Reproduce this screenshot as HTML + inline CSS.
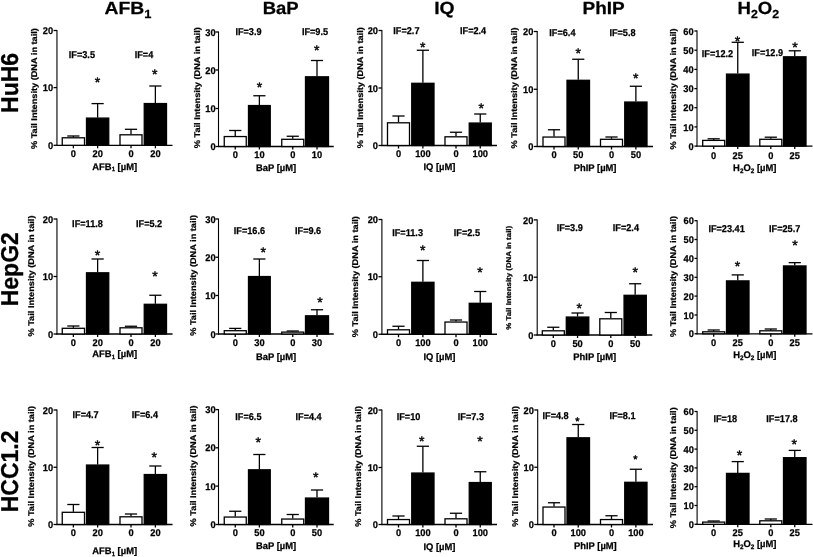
<!DOCTYPE html>
<html><head><meta charset="utf-8"><title>Comet assay tail intensity</title>
<style>
html,body{margin:0;padding:0;background:#fff;}
svg{display:block;}
svg text{text-rendering:geometricPrecision;font-family:"Liberation Sans", sans-serif;font-weight:bold;fill:#000;stroke:#000;stroke-width:0.25px;stroke-linejoin:round;}
svg text.st{font-weight:normal;stroke-width:0.45px;}
</style></head><body>
<svg width="813" height="557" viewBox="0 0 813 557">
<rect x="0" y="0" width="813" height="557" fill="#fff"/>
<line x1="56.95" y1="30.00" x2="56.95" y2="145.80" stroke="#000" stroke-width="1.1"/>
<line x1="56.45" y1="145.30" x2="172.50" y2="145.30" stroke="#000" stroke-width="1.3"/>
<line x1="53.55" y1="30.50" x2="56.95" y2="30.50" stroke="#000" stroke-width="1.3"/>
<text transform="translate(53.05,34.10) scale(0.9434,1)" font-size="9.86" text-anchor="end">20</text>
<line x1="53.55" y1="87.60" x2="56.95" y2="87.60" stroke="#000" stroke-width="1.3"/>
<text transform="translate(53.05,91.20) scale(0.9434,1)" font-size="9.86" text-anchor="end">10</text>
<line x1="53.55" y1="145.30" x2="56.95" y2="145.30" stroke="#000" stroke-width="1.3"/>
<text transform="translate(53.05,148.90) scale(0.9434,1)" font-size="9.86" text-anchor="end">0</text>
<line x1="73.38" y1="136.00" x2="73.38" y2="137.30" stroke="#000" stroke-width="1.3"/>
<line x1="67.28" y1="136.00" x2="79.47" y2="136.00" stroke="#000" stroke-width="1.3"/>
<rect x="62.25" y="137.80" width="22.25" height="7.50" fill="#fff" stroke="#000" stroke-width="1.3"/>
<line x1="73.38" y1="145.30" x2="73.38" y2="148.30" stroke="#000" stroke-width="1.3"/>
<text transform="translate(73.38,156.80) scale(0.9434,1)" font-size="9.86" text-anchor="middle">0</text>
<line x1="97.62" y1="103.60" x2="97.62" y2="117.60" stroke="#000" stroke-width="1.3"/>
<line x1="91.53" y1="103.60" x2="103.72" y2="103.60" stroke="#000" stroke-width="1.3"/>
<rect x="86.50" y="118.10" width="22.25" height="27.20" fill="#000" stroke="#000" stroke-width="1.3"/>
<line x1="97.62" y1="145.30" x2="97.62" y2="148.30" stroke="#000" stroke-width="1.3"/>
<text transform="translate(97.62,156.80) scale(0.9434,1)" font-size="9.86" text-anchor="middle">20</text>
<line x1="131.00" y1="129.30" x2="131.00" y2="134.30" stroke="#000" stroke-width="1.3"/>
<line x1="124.90" y1="129.30" x2="137.10" y2="129.30" stroke="#000" stroke-width="1.3"/>
<rect x="120.00" y="134.80" width="22.00" height="10.50" fill="#fff" stroke="#000" stroke-width="1.3"/>
<line x1="131.00" y1="145.30" x2="131.00" y2="148.30" stroke="#000" stroke-width="1.3"/>
<text transform="translate(131.00,156.80) scale(0.9434,1)" font-size="9.86" text-anchor="middle">0</text>
<line x1="155.38" y1="86.00" x2="155.38" y2="103.05" stroke="#000" stroke-width="1.3"/>
<line x1="149.28" y1="86.00" x2="161.47" y2="86.00" stroke="#000" stroke-width="1.3"/>
<rect x="144.25" y="103.55" width="22.25" height="41.75" fill="#000" stroke="#000" stroke-width="1.3"/>
<line x1="155.38" y1="145.30" x2="155.38" y2="148.30" stroke="#000" stroke-width="1.3"/>
<text transform="translate(155.38,156.80) scale(0.9434,1)" font-size="9.86" text-anchor="middle">20</text>
<text transform="translate(114.72,169.55) scale(0.9804,1)" font-size="9.59" text-anchor="middle">AFB<tspan font-size="6.14" dy="1.92">1</tspan><tspan dy="-1.92"> [µM]</tspan></text>
<text class="st" x="97.40" y="87.24" font-size="14" text-anchor="middle">*</text>
<text class="st" x="154.80" y="79.14" font-size="14" text-anchor="middle">*</text>
<text transform="translate(81.88,57.70) scale(0.9259,1)" font-size="9.90" text-anchor="middle">IF=3.5</text>
<text transform="translate(144.00,57.70) scale(0.9259,1)" font-size="9.90" text-anchor="middle">IF=4</text>
<text x="0.00" y="0.00" font-size="9.2" text-anchor="middle" transform="translate(37.16,88.60) scale(0.9,1) rotate(-90)">% Tail Intensity (DNA in tail)</text>
<line x1="218.50" y1="31.50" x2="218.50" y2="147.00" stroke="#000" stroke-width="1.1"/>
<line x1="218.00" y1="146.50" x2="333.75" y2="146.50" stroke="#000" stroke-width="1.3"/>
<line x1="215.50" y1="32.00" x2="218.50" y2="32.00" stroke="#000" stroke-width="1.3"/>
<text transform="translate(215.60,35.60) scale(0.9434,1)" font-size="9.86" text-anchor="end">30</text>
<line x1="215.50" y1="70.00" x2="218.50" y2="70.00" stroke="#000" stroke-width="1.3"/>
<text transform="translate(215.60,73.60) scale(0.9434,1)" font-size="9.86" text-anchor="end">20</text>
<line x1="215.50" y1="108.50" x2="218.50" y2="108.50" stroke="#000" stroke-width="1.3"/>
<text transform="translate(215.60,112.10) scale(0.9434,1)" font-size="9.86" text-anchor="end">10</text>
<line x1="215.50" y1="146.50" x2="218.50" y2="146.50" stroke="#000" stroke-width="1.3"/>
<text transform="translate(215.60,150.10) scale(0.9434,1)" font-size="9.86" text-anchor="end">0</text>
<line x1="235.25" y1="130.50" x2="235.25" y2="136.05" stroke="#000" stroke-width="1.3"/>
<line x1="229.15" y1="130.50" x2="241.35" y2="130.50" stroke="#000" stroke-width="1.3"/>
<rect x="224.25" y="136.55" width="22.00" height="9.95" fill="#fff" stroke="#000" stroke-width="1.3"/>
<line x1="235.25" y1="146.50" x2="235.25" y2="149.50" stroke="#000" stroke-width="1.3"/>
<text transform="translate(235.25,157.80) scale(0.9434,1)" font-size="9.86" text-anchor="middle">0</text>
<line x1="259.38" y1="95.75" x2="259.38" y2="105.05" stroke="#000" stroke-width="1.3"/>
<line x1="253.28" y1="95.75" x2="265.48" y2="95.75" stroke="#000" stroke-width="1.3"/>
<rect x="248.50" y="105.55" width="21.75" height="40.95" fill="#000" stroke="#000" stroke-width="1.3"/>
<line x1="259.38" y1="146.50" x2="259.38" y2="149.50" stroke="#000" stroke-width="1.3"/>
<text transform="translate(259.38,157.80) scale(0.9434,1)" font-size="9.86" text-anchor="middle">10</text>
<line x1="292.75" y1="136.25" x2="292.75" y2="138.80" stroke="#000" stroke-width="1.3"/>
<line x1="286.65" y1="136.25" x2="298.85" y2="136.25" stroke="#000" stroke-width="1.3"/>
<rect x="281.75" y="139.30" width="22.00" height="7.20" fill="#fff" stroke="#000" stroke-width="1.3"/>
<line x1="292.75" y1="146.50" x2="292.75" y2="149.50" stroke="#000" stroke-width="1.3"/>
<text transform="translate(292.75,157.80) scale(0.9434,1)" font-size="9.86" text-anchor="middle">0</text>
<line x1="317.00" y1="60.50" x2="317.00" y2="76.30" stroke="#000" stroke-width="1.3"/>
<line x1="310.90" y1="60.50" x2="323.10" y2="60.50" stroke="#000" stroke-width="1.3"/>
<rect x="305.50" y="76.80" width="23.00" height="69.70" fill="#000" stroke="#000" stroke-width="1.3"/>
<line x1="317.00" y1="146.50" x2="317.00" y2="149.50" stroke="#000" stroke-width="1.3"/>
<text transform="translate(317.00,157.80) scale(0.9434,1)" font-size="9.86" text-anchor="middle">10</text>
<text transform="translate(276.12,170.80) scale(0.9804,1)" font-size="9.59" text-anchor="middle">BaP [µM]</text>
<text class="st" x="259.50" y="91.64" font-size="14" text-anchor="middle">*</text>
<text class="st" x="316.80" y="55.44" font-size="14" text-anchor="middle">*</text>
<text transform="translate(248.50,35.20) scale(0.9259,1)" font-size="9.90" text-anchor="middle">IF=3.9</text>
<text transform="translate(315.00,35.20) scale(0.9259,1)" font-size="9.90" text-anchor="middle">IF=9.5</text>
<text x="0.00" y="0.00" font-size="9.2" text-anchor="middle" transform="translate(199.60,87.75) scale(0.9,1) rotate(-90)">% Tail Intensity (DNA in tail)</text>
<line x1="381.90" y1="30.00" x2="381.90" y2="146.00" stroke="#000" stroke-width="1.1"/>
<line x1="381.40" y1="145.50" x2="497.00" y2="145.50" stroke="#000" stroke-width="1.3"/>
<line x1="378.50" y1="30.50" x2="381.90" y2="30.50" stroke="#000" stroke-width="1.3"/>
<text transform="translate(378.00,34.10) scale(0.9434,1)" font-size="9.86" text-anchor="end">20</text>
<line x1="378.50" y1="88.00" x2="381.90" y2="88.00" stroke="#000" stroke-width="1.3"/>
<text transform="translate(378.00,91.60) scale(0.9434,1)" font-size="9.86" text-anchor="end">10</text>
<line x1="378.50" y1="145.50" x2="381.90" y2="145.50" stroke="#000" stroke-width="1.3"/>
<text transform="translate(378.00,149.10) scale(0.9434,1)" font-size="9.86" text-anchor="end">0</text>
<line x1="398.50" y1="116.00" x2="398.50" y2="122.30" stroke="#000" stroke-width="1.3"/>
<line x1="392.40" y1="116.00" x2="404.60" y2="116.00" stroke="#000" stroke-width="1.3"/>
<rect x="387.50" y="122.80" width="22.00" height="22.70" fill="#fff" stroke="#000" stroke-width="1.3"/>
<line x1="398.50" y1="145.50" x2="398.50" y2="148.50" stroke="#000" stroke-width="1.3"/>
<text transform="translate(398.50,156.80) scale(0.9434,1)" font-size="9.86" text-anchor="middle">0</text>
<line x1="422.88" y1="50.25" x2="422.88" y2="82.80" stroke="#000" stroke-width="1.3"/>
<line x1="416.77" y1="50.25" x2="428.98" y2="50.25" stroke="#000" stroke-width="1.3"/>
<rect x="411.75" y="83.30" width="22.25" height="62.20" fill="#000" stroke="#000" stroke-width="1.3"/>
<line x1="422.88" y1="145.50" x2="422.88" y2="148.50" stroke="#000" stroke-width="1.3"/>
<text transform="translate(422.88,156.80) scale(0.9434,1)" font-size="9.86" text-anchor="middle">100</text>
<line x1="456.00" y1="132.25" x2="456.00" y2="136.30" stroke="#000" stroke-width="1.3"/>
<line x1="449.90" y1="132.25" x2="462.10" y2="132.25" stroke="#000" stroke-width="1.3"/>
<rect x="445.00" y="136.80" width="22.00" height="8.70" fill="#fff" stroke="#000" stroke-width="1.3"/>
<line x1="456.00" y1="145.50" x2="456.00" y2="148.50" stroke="#000" stroke-width="1.3"/>
<text transform="translate(456.00,156.80) scale(0.9434,1)" font-size="9.86" text-anchor="middle">0</text>
<line x1="480.25" y1="114.00" x2="480.25" y2="122.55" stroke="#000" stroke-width="1.3"/>
<line x1="474.15" y1="114.00" x2="486.35" y2="114.00" stroke="#000" stroke-width="1.3"/>
<rect x="469.25" y="123.05" width="22.00" height="22.45" fill="#000" stroke="#000" stroke-width="1.3"/>
<line x1="480.25" y1="145.50" x2="480.25" y2="148.50" stroke="#000" stroke-width="1.3"/>
<text transform="translate(480.25,156.80) scale(0.9434,1)" font-size="9.86" text-anchor="middle">100</text>
<text transform="translate(439.45,169.55) scale(0.9804,1)" font-size="9.59" text-anchor="middle">IQ [µM]</text>
<text class="st" x="422.75" y="52.14" font-size="14" text-anchor="middle">*</text>
<text class="st" x="481.25" y="113.14" font-size="14" text-anchor="middle">*</text>
<text transform="translate(406.38,33.95) scale(0.9259,1)" font-size="9.90" text-anchor="middle">IF=2.7</text>
<text transform="translate(473.12,33.95) scale(0.9259,1)" font-size="9.90" text-anchor="middle">IF=2.4</text>
<text x="0.00" y="0.00" font-size="9.2" text-anchor="middle" transform="translate(362.76,87.75) scale(0.9,1) rotate(-90)">% Tail Intensity (DNA in tail)</text>
<line x1="537.20" y1="31.00" x2="537.20" y2="147.00" stroke="#000" stroke-width="1.1"/>
<line x1="536.70" y1="146.50" x2="653.00" y2="146.50" stroke="#000" stroke-width="1.3"/>
<line x1="533.80" y1="31.50" x2="537.20" y2="31.50" stroke="#000" stroke-width="1.3"/>
<text transform="translate(533.30,35.10) scale(0.9434,1)" font-size="9.86" text-anchor="end">20</text>
<line x1="533.80" y1="89.25" x2="537.20" y2="89.25" stroke="#000" stroke-width="1.3"/>
<text transform="translate(533.30,92.85) scale(0.9434,1)" font-size="9.86" text-anchor="end">10</text>
<line x1="533.80" y1="146.50" x2="537.20" y2="146.50" stroke="#000" stroke-width="1.3"/>
<text transform="translate(533.30,150.10) scale(0.9434,1)" font-size="9.86" text-anchor="end">0</text>
<line x1="554.00" y1="129.75" x2="554.00" y2="136.55" stroke="#000" stroke-width="1.3"/>
<line x1="547.90" y1="129.75" x2="560.10" y2="129.75" stroke="#000" stroke-width="1.3"/>
<rect x="543.00" y="137.05" width="22.00" height="9.45" fill="#fff" stroke="#000" stroke-width="1.3"/>
<line x1="554.00" y1="146.50" x2="554.00" y2="149.50" stroke="#000" stroke-width="1.3"/>
<text transform="translate(554.00,157.80) scale(0.9434,1)" font-size="9.86" text-anchor="middle">0</text>
<line x1="578.25" y1="59.25" x2="578.25" y2="79.80" stroke="#000" stroke-width="1.3"/>
<line x1="572.15" y1="59.25" x2="584.35" y2="59.25" stroke="#000" stroke-width="1.3"/>
<rect x="567.00" y="80.30" width="22.50" height="66.20" fill="#000" stroke="#000" stroke-width="1.3"/>
<line x1="578.25" y1="146.50" x2="578.25" y2="149.50" stroke="#000" stroke-width="1.3"/>
<text transform="translate(578.25,157.80) scale(0.9434,1)" font-size="9.86" text-anchor="middle">50</text>
<line x1="611.50" y1="137.00" x2="611.50" y2="138.80" stroke="#000" stroke-width="1.3"/>
<line x1="605.40" y1="137.00" x2="617.60" y2="137.00" stroke="#000" stroke-width="1.3"/>
<rect x="600.50" y="139.30" width="22.00" height="7.20" fill="#fff" stroke="#000" stroke-width="1.3"/>
<line x1="611.50" y1="146.50" x2="611.50" y2="149.50" stroke="#000" stroke-width="1.3"/>
<text transform="translate(611.50,157.80) scale(0.9434,1)" font-size="9.86" text-anchor="middle">0</text>
<line x1="635.88" y1="86.25" x2="635.88" y2="101.55" stroke="#000" stroke-width="1.3"/>
<line x1="629.77" y1="86.25" x2="641.98" y2="86.25" stroke="#000" stroke-width="1.3"/>
<rect x="624.75" y="102.05" width="22.25" height="44.45" fill="#000" stroke="#000" stroke-width="1.3"/>
<line x1="635.88" y1="146.50" x2="635.88" y2="149.50" stroke="#000" stroke-width="1.3"/>
<text transform="translate(635.88,157.80) scale(0.9434,1)" font-size="9.86" text-anchor="middle">50</text>
<text transform="translate(595.10,170.80) scale(0.9804,1)" font-size="9.59" text-anchor="middle">PhIP [µM]</text>
<text class="st" x="578.25" y="58.39" font-size="14" text-anchor="middle">*</text>
<text class="st" x="635.75" y="82.89" font-size="14" text-anchor="middle">*</text>
<text transform="translate(562.38,36.45) scale(0.9259,1)" font-size="9.90" text-anchor="middle">IF=6.4</text>
<text transform="translate(622.50,36.45) scale(0.9259,1)" font-size="9.90" text-anchor="middle">IF=5.8</text>
<text x="0.00" y="0.00" font-size="9.2" text-anchor="middle" transform="translate(517.40,87.95) scale(0.9,1) rotate(-90)">% Tail Intensity (DNA in tail)</text>
<line x1="697.00" y1="30.50" x2="697.00" y2="146.60" stroke="#000" stroke-width="1.1"/>
<line x1="696.50" y1="146.10" x2="812.50" y2="146.10" stroke="#000" stroke-width="1.3"/>
<line x1="694.40" y1="31.00" x2="697.00" y2="31.00" stroke="#000" stroke-width="1.3"/>
<text transform="translate(693.70,34.60) scale(0.9434,1)" font-size="9.86" text-anchor="end">60</text>
<line x1="694.40" y1="50.20" x2="697.00" y2="50.20" stroke="#000" stroke-width="1.3"/>
<text transform="translate(693.70,53.80) scale(0.9434,1)" font-size="9.86" text-anchor="end">50</text>
<line x1="694.40" y1="69.40" x2="697.00" y2="69.40" stroke="#000" stroke-width="1.3"/>
<text transform="translate(693.70,73.00) scale(0.9434,1)" font-size="9.86" text-anchor="end">40</text>
<line x1="694.40" y1="88.60" x2="697.00" y2="88.60" stroke="#000" stroke-width="1.3"/>
<text transform="translate(693.70,92.20) scale(0.9434,1)" font-size="9.86" text-anchor="end">30</text>
<line x1="694.40" y1="107.70" x2="697.00" y2="107.70" stroke="#000" stroke-width="1.3"/>
<text transform="translate(693.70,111.30) scale(0.9434,1)" font-size="9.86" text-anchor="end">20</text>
<line x1="694.40" y1="126.90" x2="697.00" y2="126.90" stroke="#000" stroke-width="1.3"/>
<text transform="translate(693.70,130.50) scale(0.9434,1)" font-size="9.86" text-anchor="end">10</text>
<line x1="694.40" y1="146.10" x2="697.00" y2="146.10" stroke="#000" stroke-width="1.3"/>
<text transform="translate(693.70,149.70) scale(0.9434,1)" font-size="9.86" text-anchor="end">0</text>
<line x1="713.70" y1="138.80" x2="713.70" y2="139.90" stroke="#000" stroke-width="1.3"/>
<line x1="707.60" y1="138.80" x2="719.80" y2="138.80" stroke="#000" stroke-width="1.3"/>
<rect x="702.70" y="140.40" width="22.00" height="5.70" fill="#fff" stroke="#000" stroke-width="1.3"/>
<line x1="713.70" y1="146.10" x2="713.70" y2="149.10" stroke="#000" stroke-width="1.3"/>
<text transform="translate(713.70,158.60) scale(0.9434,1)" font-size="9.86" text-anchor="middle">0</text>
<line x1="737.75" y1="42.30" x2="737.75" y2="73.60" stroke="#000" stroke-width="1.3"/>
<line x1="731.65" y1="42.30" x2="743.85" y2="42.30" stroke="#000" stroke-width="1.3"/>
<rect x="726.50" y="74.10" width="22.50" height="72.00" fill="#000" stroke="#000" stroke-width="1.3"/>
<line x1="737.75" y1="146.10" x2="737.75" y2="149.10" stroke="#000" stroke-width="1.3"/>
<text transform="translate(737.75,158.60) scale(0.9434,1)" font-size="9.86" text-anchor="middle">25</text>
<line x1="770.80" y1="137.20" x2="770.80" y2="138.80" stroke="#000" stroke-width="1.3"/>
<line x1="764.70" y1="137.20" x2="776.90" y2="137.20" stroke="#000" stroke-width="1.3"/>
<rect x="759.80" y="139.30" width="22.00" height="6.80" fill="#fff" stroke="#000" stroke-width="1.3"/>
<line x1="770.80" y1="146.10" x2="770.80" y2="149.10" stroke="#000" stroke-width="1.3"/>
<text transform="translate(770.80,158.60) scale(0.9434,1)" font-size="9.86" text-anchor="middle">0</text>
<line x1="794.75" y1="50.80" x2="794.75" y2="56.30" stroke="#000" stroke-width="1.3"/>
<line x1="788.65" y1="50.80" x2="800.85" y2="50.80" stroke="#000" stroke-width="1.3"/>
<rect x="783.50" y="56.80" width="22.50" height="89.30" fill="#000" stroke="#000" stroke-width="1.3"/>
<line x1="794.75" y1="146.10" x2="794.75" y2="149.10" stroke="#000" stroke-width="1.3"/>
<text transform="translate(794.75,158.60) scale(0.9434,1)" font-size="9.86" text-anchor="middle">25</text>
<text transform="translate(754.75,170.80) scale(0.9804,1)" font-size="9.59" text-anchor="middle">H<tspan font-size="6.52" dy="1.92">2</tspan><tspan dy="-1.92">O</tspan><tspan font-size="6.52" dy="1.92">2</tspan><tspan dy="-1.92"> [µM]</tspan></text>
<text class="st" x="737.60" y="45.64" font-size="14" text-anchor="middle">*</text>
<text class="st" x="795.10" y="52.24" font-size="14" text-anchor="middle">*</text>
<text transform="translate(717.45,57.00) scale(0.9259,1)" font-size="9.90" text-anchor="middle">IF=12.2</text>
<text transform="translate(767.40,56.20) scale(0.9259,1)" font-size="9.90" text-anchor="middle">IF=12.9</text>
<text x="0.00" y="0.00" font-size="9.2" text-anchor="middle" transform="translate(676.30,88.95) scale(0.9,1) rotate(-90)">% Tail Intensity (DNA in tail)</text>
<line x1="56.95" y1="218.50" x2="56.95" y2="334.50" stroke="#000" stroke-width="1.1"/>
<line x1="56.45" y1="334.00" x2="172.50" y2="334.00" stroke="#000" stroke-width="1.3"/>
<line x1="53.55" y1="219.00" x2="56.95" y2="219.00" stroke="#000" stroke-width="1.3"/>
<text transform="translate(53.05,222.60) scale(0.9434,1)" font-size="9.86" text-anchor="end">20</text>
<line x1="53.55" y1="276.50" x2="56.95" y2="276.50" stroke="#000" stroke-width="1.3"/>
<text transform="translate(53.05,280.10) scale(0.9434,1)" font-size="9.86" text-anchor="end">10</text>
<line x1="53.55" y1="334.00" x2="56.95" y2="334.00" stroke="#000" stroke-width="1.3"/>
<text transform="translate(53.05,337.60) scale(0.9434,1)" font-size="9.86" text-anchor="end">0</text>
<line x1="73.38" y1="326.00" x2="73.38" y2="327.80" stroke="#000" stroke-width="1.3"/>
<line x1="67.28" y1="326.00" x2="79.47" y2="326.00" stroke="#000" stroke-width="1.3"/>
<rect x="62.25" y="328.30" width="22.25" height="5.70" fill="#fff" stroke="#000" stroke-width="1.3"/>
<line x1="73.38" y1="334.00" x2="73.38" y2="337.00" stroke="#000" stroke-width="1.3"/>
<text transform="translate(73.38,346.05) scale(0.9434,1)" font-size="9.86" text-anchor="middle">0</text>
<line x1="97.62" y1="259.00" x2="97.62" y2="272.30" stroke="#000" stroke-width="1.3"/>
<line x1="91.53" y1="259.00" x2="103.72" y2="259.00" stroke="#000" stroke-width="1.3"/>
<rect x="86.50" y="272.80" width="22.25" height="61.20" fill="#000" stroke="#000" stroke-width="1.3"/>
<line x1="97.62" y1="334.00" x2="97.62" y2="337.00" stroke="#000" stroke-width="1.3"/>
<text transform="translate(97.62,346.05) scale(0.9434,1)" font-size="9.86" text-anchor="middle">20</text>
<line x1="131.00" y1="326.25" x2="131.00" y2="327.30" stroke="#000" stroke-width="1.3"/>
<line x1="124.90" y1="326.25" x2="137.10" y2="326.25" stroke="#000" stroke-width="1.3"/>
<rect x="120.00" y="327.80" width="22.00" height="6.20" fill="#fff" stroke="#000" stroke-width="1.3"/>
<line x1="131.00" y1="334.00" x2="131.00" y2="337.00" stroke="#000" stroke-width="1.3"/>
<text transform="translate(131.00,346.05) scale(0.9434,1)" font-size="9.86" text-anchor="middle">0</text>
<line x1="155.38" y1="295.25" x2="155.38" y2="303.80" stroke="#000" stroke-width="1.3"/>
<line x1="149.28" y1="295.25" x2="161.47" y2="295.25" stroke="#000" stroke-width="1.3"/>
<rect x="144.25" y="304.30" width="22.25" height="29.70" fill="#000" stroke="#000" stroke-width="1.3"/>
<line x1="155.38" y1="334.00" x2="155.38" y2="337.00" stroke="#000" stroke-width="1.3"/>
<text transform="translate(155.38,346.05) scale(0.9434,1)" font-size="9.86" text-anchor="middle">20</text>
<text transform="translate(114.72,357.20) scale(0.9804,1)" font-size="9.59" text-anchor="middle">AFB<tspan font-size="6.14" dy="1.92">1</tspan><tspan dy="-1.92"> [µM]</tspan></text>
<text class="st" x="97.50" y="259.64" font-size="14" text-anchor="middle">*</text>
<text class="st" x="155.00" y="280.89" font-size="14" text-anchor="middle">*</text>
<text transform="translate(87.50,226.95) scale(0.9259,1)" font-size="9.90" text-anchor="middle">IF=11.8</text>
<text transform="translate(149.12,226.95) scale(0.9259,1)" font-size="9.90" text-anchor="middle">IF=5.2</text>
<text x="0.00" y="0.00" font-size="9.2" text-anchor="middle" transform="translate(34.00,276.05) scale(0.9,1) rotate(-90)">% Tail Intensity (DNA in tail)</text>
<line x1="218.50" y1="218.50" x2="218.50" y2="334.50" stroke="#000" stroke-width="1.1"/>
<line x1="218.00" y1="334.00" x2="333.75" y2="334.00" stroke="#000" stroke-width="1.3"/>
<line x1="215.50" y1="219.00" x2="218.50" y2="219.00" stroke="#000" stroke-width="1.3"/>
<text transform="translate(215.60,222.60) scale(0.9434,1)" font-size="9.86" text-anchor="end">30</text>
<line x1="215.50" y1="257.25" x2="218.50" y2="257.25" stroke="#000" stroke-width="1.3"/>
<text transform="translate(215.60,260.85) scale(0.9434,1)" font-size="9.86" text-anchor="end">20</text>
<line x1="215.50" y1="295.50" x2="218.50" y2="295.50" stroke="#000" stroke-width="1.3"/>
<text transform="translate(215.60,299.10) scale(0.9434,1)" font-size="9.86" text-anchor="end">10</text>
<line x1="215.50" y1="334.00" x2="218.50" y2="334.00" stroke="#000" stroke-width="1.3"/>
<text transform="translate(215.60,337.60) scale(0.9434,1)" font-size="9.86" text-anchor="end">0</text>
<line x1="235.25" y1="328.40" x2="235.25" y2="330.20" stroke="#000" stroke-width="1.3"/>
<line x1="229.15" y1="328.40" x2="241.35" y2="328.40" stroke="#000" stroke-width="1.3"/>
<rect x="224.25" y="330.70" width="22.00" height="3.30" fill="#fff" stroke="#000" stroke-width="1.3"/>
<line x1="235.25" y1="334.00" x2="235.25" y2="337.00" stroke="#000" stroke-width="1.3"/>
<text transform="translate(235.25,345.80) scale(0.9434,1)" font-size="9.86" text-anchor="middle">0</text>
<line x1="259.38" y1="259.00" x2="259.38" y2="276.05" stroke="#000" stroke-width="1.3"/>
<line x1="253.28" y1="259.00" x2="265.48" y2="259.00" stroke="#000" stroke-width="1.3"/>
<rect x="248.50" y="276.55" width="21.75" height="57.45" fill="#000" stroke="#000" stroke-width="1.3"/>
<line x1="259.38" y1="334.00" x2="259.38" y2="337.00" stroke="#000" stroke-width="1.3"/>
<text transform="translate(259.38,345.80) scale(0.9434,1)" font-size="9.86" text-anchor="middle">30</text>
<line x1="292.75" y1="331.00" x2="292.75" y2="331.60" stroke="#000" stroke-width="1.3"/>
<line x1="286.65" y1="331.00" x2="298.85" y2="331.00" stroke="#000" stroke-width="1.3"/>
<rect x="281.75" y="332.10" width="22.00" height="1.90" fill="#fff" stroke="#000" stroke-width="1.3"/>
<line x1="292.75" y1="334.00" x2="292.75" y2="337.00" stroke="#000" stroke-width="1.3"/>
<text transform="translate(292.75,345.80) scale(0.9434,1)" font-size="9.86" text-anchor="middle">0</text>
<line x1="317.00" y1="309.75" x2="317.00" y2="315.30" stroke="#000" stroke-width="1.3"/>
<line x1="310.90" y1="309.75" x2="323.10" y2="309.75" stroke="#000" stroke-width="1.3"/>
<rect x="305.50" y="315.80" width="23.00" height="18.20" fill="#000" stroke="#000" stroke-width="1.3"/>
<line x1="317.00" y1="334.00" x2="317.00" y2="337.00" stroke="#000" stroke-width="1.3"/>
<text transform="translate(317.00,345.80) scale(0.9434,1)" font-size="9.86" text-anchor="middle">30</text>
<text transform="translate(276.12,359.80) scale(0.9804,1)" font-size="9.59" text-anchor="middle">BaP [µM]</text>
<text class="st" x="263.25" y="257.14" font-size="14" text-anchor="middle">*</text>
<text class="st" x="320.00" y="306.64" font-size="14" text-anchor="middle">*</text>
<text transform="translate(249.38,233.95) scale(0.9259,1)" font-size="9.90" text-anchor="middle">IF=16.6</text>
<text transform="translate(308.12,233.95) scale(0.9259,1)" font-size="9.90" text-anchor="middle">IF=9.6</text>
<text x="0.00" y="0.00" font-size="9.2" text-anchor="middle" transform="translate(195.70,275.35) scale(0.9,1) rotate(-90)">% Tail Intensity (DNA in tail)</text>
<line x1="381.90" y1="219.00" x2="381.90" y2="334.75" stroke="#000" stroke-width="1.1"/>
<line x1="381.40" y1="334.25" x2="497.00" y2="334.25" stroke="#000" stroke-width="1.3"/>
<line x1="378.50" y1="219.50" x2="381.90" y2="219.50" stroke="#000" stroke-width="1.3"/>
<text transform="translate(378.00,223.10) scale(0.9434,1)" font-size="9.86" text-anchor="end">20</text>
<line x1="378.50" y1="276.75" x2="381.90" y2="276.75" stroke="#000" stroke-width="1.3"/>
<text transform="translate(378.00,280.35) scale(0.9434,1)" font-size="9.86" text-anchor="end">10</text>
<line x1="378.50" y1="334.25" x2="381.90" y2="334.25" stroke="#000" stroke-width="1.3"/>
<text transform="translate(378.00,337.85) scale(0.9434,1)" font-size="9.86" text-anchor="end">0</text>
<line x1="398.50" y1="326.25" x2="398.50" y2="329.30" stroke="#000" stroke-width="1.3"/>
<line x1="392.40" y1="326.25" x2="404.60" y2="326.25" stroke="#000" stroke-width="1.3"/>
<rect x="387.50" y="329.80" width="22.00" height="4.45" fill="#fff" stroke="#000" stroke-width="1.3"/>
<line x1="398.50" y1="334.25" x2="398.50" y2="337.25" stroke="#000" stroke-width="1.3"/>
<text transform="translate(398.50,345.80) scale(0.9434,1)" font-size="9.86" text-anchor="middle">0</text>
<line x1="422.88" y1="260.50" x2="422.88" y2="281.80" stroke="#000" stroke-width="1.3"/>
<line x1="416.77" y1="260.50" x2="428.98" y2="260.50" stroke="#000" stroke-width="1.3"/>
<rect x="411.75" y="282.30" width="22.25" height="51.95" fill="#000" stroke="#000" stroke-width="1.3"/>
<line x1="422.88" y1="334.25" x2="422.88" y2="337.25" stroke="#000" stroke-width="1.3"/>
<text transform="translate(422.88,345.80) scale(0.9434,1)" font-size="9.86" text-anchor="middle">100</text>
<line x1="456.00" y1="320.00" x2="456.00" y2="321.55" stroke="#000" stroke-width="1.3"/>
<line x1="449.90" y1="320.00" x2="462.10" y2="320.00" stroke="#000" stroke-width="1.3"/>
<rect x="445.00" y="322.05" width="22.00" height="12.20" fill="#fff" stroke="#000" stroke-width="1.3"/>
<line x1="456.00" y1="334.25" x2="456.00" y2="337.25" stroke="#000" stroke-width="1.3"/>
<text transform="translate(456.00,345.80) scale(0.9434,1)" font-size="9.86" text-anchor="middle">0</text>
<line x1="480.25" y1="291.50" x2="480.25" y2="302.80" stroke="#000" stroke-width="1.3"/>
<line x1="474.15" y1="291.50" x2="486.35" y2="291.50" stroke="#000" stroke-width="1.3"/>
<rect x="469.25" y="303.30" width="22.00" height="30.95" fill="#000" stroke="#000" stroke-width="1.3"/>
<line x1="480.25" y1="334.25" x2="480.25" y2="337.25" stroke="#000" stroke-width="1.3"/>
<text transform="translate(480.25,345.80) scale(0.9434,1)" font-size="9.86" text-anchor="middle">100</text>
<text transform="translate(439.45,360.30) scale(0.9804,1)" font-size="9.59" text-anchor="middle">IQ [µM]</text>
<text class="st" x="422.75" y="255.14" font-size="14" text-anchor="middle">*</text>
<text class="st" x="480.00" y="277.14" font-size="14" text-anchor="middle">*</text>
<text transform="translate(407.62,235.95) scale(0.9259,1)" font-size="9.90" text-anchor="middle">IF=11.3</text>
<text transform="translate(466.88,235.95) scale(0.9259,1)" font-size="9.90" text-anchor="middle">IF=2.5</text>
<text x="0.00" y="0.00" font-size="9.2" text-anchor="middle" transform="translate(358.30,276.70) scale(0.9,1) rotate(-90)">% Tail Intensity (DNA in tail)</text>
<line x1="537.20" y1="219.40" x2="537.20" y2="335.50" stroke="#000" stroke-width="1.1"/>
<line x1="536.70" y1="335.00" x2="652.30" y2="335.00" stroke="#000" stroke-width="1.3"/>
<line x1="533.80" y1="219.90" x2="537.20" y2="219.90" stroke="#000" stroke-width="1.3"/>
<text transform="translate(533.30,223.50) scale(0.9434,1)" font-size="9.86" text-anchor="end">20</text>
<line x1="533.80" y1="277.20" x2="537.20" y2="277.20" stroke="#000" stroke-width="1.3"/>
<text transform="translate(533.30,280.80) scale(0.9434,1)" font-size="9.86" text-anchor="end">10</text>
<line x1="533.80" y1="335.00" x2="537.20" y2="335.00" stroke="#000" stroke-width="1.3"/>
<text transform="translate(533.30,338.60) scale(0.9434,1)" font-size="9.86" text-anchor="end">0</text>
<line x1="553.30" y1="327.25" x2="553.30" y2="330.30" stroke="#000" stroke-width="1.3"/>
<line x1="547.20" y1="327.25" x2="559.40" y2="327.25" stroke="#000" stroke-width="1.3"/>
<rect x="542.30" y="330.80" width="22.00" height="4.20" fill="#fff" stroke="#000" stroke-width="1.3"/>
<line x1="553.30" y1="335.00" x2="553.30" y2="338.00" stroke="#000" stroke-width="1.3"/>
<text transform="translate(553.30,346.55) scale(0.9434,1)" font-size="9.86" text-anchor="middle">0</text>
<line x1="577.55" y1="313.00" x2="577.55" y2="316.55" stroke="#000" stroke-width="1.3"/>
<line x1="571.45" y1="313.00" x2="583.65" y2="313.00" stroke="#000" stroke-width="1.3"/>
<rect x="566.30" y="317.05" width="22.50" height="17.95" fill="#000" stroke="#000" stroke-width="1.3"/>
<line x1="577.55" y1="335.00" x2="577.55" y2="338.00" stroke="#000" stroke-width="1.3"/>
<text transform="translate(577.55,346.55) scale(0.9434,1)" font-size="9.86" text-anchor="middle">50</text>
<line x1="610.80" y1="312.50" x2="610.80" y2="318.30" stroke="#000" stroke-width="1.3"/>
<line x1="604.70" y1="312.50" x2="616.90" y2="312.50" stroke="#000" stroke-width="1.3"/>
<rect x="599.80" y="318.80" width="22.00" height="16.20" fill="#fff" stroke="#000" stroke-width="1.3"/>
<line x1="610.80" y1="335.00" x2="610.80" y2="338.00" stroke="#000" stroke-width="1.3"/>
<text transform="translate(610.80,346.55) scale(0.9434,1)" font-size="9.86" text-anchor="middle">0</text>
<line x1="635.17" y1="283.75" x2="635.17" y2="294.80" stroke="#000" stroke-width="1.3"/>
<line x1="629.07" y1="283.75" x2="641.27" y2="283.75" stroke="#000" stroke-width="1.3"/>
<rect x="624.05" y="295.30" width="22.25" height="39.70" fill="#000" stroke="#000" stroke-width="1.3"/>
<line x1="635.17" y1="335.00" x2="635.17" y2="338.00" stroke="#000" stroke-width="1.3"/>
<text transform="translate(635.17,346.55) scale(0.9434,1)" font-size="9.86" text-anchor="middle">50</text>
<text transform="translate(594.75,359.55) scale(0.9804,1)" font-size="9.59" text-anchor="middle">PhIP [µM]</text>
<text class="st" x="579.25" y="312.89" font-size="14" text-anchor="middle">*</text>
<text class="st" x="635.25" y="277.14" font-size="14" text-anchor="middle">*</text>
<text transform="translate(569.75,230.95) scale(0.9259,1)" font-size="9.90" text-anchor="middle">IF=3.9</text>
<text transform="translate(625.88,230.95) scale(0.9259,1)" font-size="9.90" text-anchor="middle">IF=2.4</text>
<text x="0.00" y="0.00" font-size="7.9" text-anchor="middle" transform="translate(511.00,277.80) scale(0.88,1) rotate(-90)">% Tail Intensity (DNA in tail)</text>
<line x1="697.10" y1="220.20" x2="697.10" y2="334.30" stroke="#000" stroke-width="1.1"/>
<line x1="696.60" y1="333.80" x2="812.50" y2="333.80" stroke="#000" stroke-width="1.3"/>
<line x1="694.50" y1="220.70" x2="697.10" y2="220.70" stroke="#000" stroke-width="1.3"/>
<text transform="translate(693.80,224.30) scale(0.9434,1)" font-size="9.86" text-anchor="end">60</text>
<line x1="694.50" y1="239.50" x2="697.10" y2="239.50" stroke="#000" stroke-width="1.3"/>
<text transform="translate(693.80,243.10) scale(0.9434,1)" font-size="9.86" text-anchor="end">50</text>
<line x1="694.50" y1="258.40" x2="697.10" y2="258.40" stroke="#000" stroke-width="1.3"/>
<text transform="translate(693.80,262.00) scale(0.9434,1)" font-size="9.86" text-anchor="end">40</text>
<line x1="694.50" y1="277.30" x2="697.10" y2="277.30" stroke="#000" stroke-width="1.3"/>
<text transform="translate(693.80,280.90) scale(0.9434,1)" font-size="9.86" text-anchor="end">30</text>
<line x1="694.50" y1="296.10" x2="697.10" y2="296.10" stroke="#000" stroke-width="1.3"/>
<text transform="translate(693.80,299.70) scale(0.9434,1)" font-size="9.86" text-anchor="end">20</text>
<line x1="694.50" y1="315.00" x2="697.10" y2="315.00" stroke="#000" stroke-width="1.3"/>
<text transform="translate(693.80,318.60) scale(0.9434,1)" font-size="9.86" text-anchor="end">10</text>
<line x1="694.50" y1="333.80" x2="697.10" y2="333.80" stroke="#000" stroke-width="1.3"/>
<text transform="translate(693.80,337.40) scale(0.9434,1)" font-size="9.86" text-anchor="end">0</text>
<line x1="713.70" y1="330.00" x2="713.70" y2="331.30" stroke="#000" stroke-width="1.3"/>
<line x1="707.60" y1="330.00" x2="719.80" y2="330.00" stroke="#000" stroke-width="1.3"/>
<rect x="702.70" y="331.80" width="22.00" height="2.00" fill="#fff" stroke="#000" stroke-width="1.3"/>
<line x1="713.70" y1="333.80" x2="713.70" y2="336.80" stroke="#000" stroke-width="1.3"/>
<text transform="translate(713.70,345.60) scale(0.9434,1)" font-size="9.86" text-anchor="middle">0</text>
<line x1="737.75" y1="274.90" x2="737.75" y2="280.40" stroke="#000" stroke-width="1.3"/>
<line x1="731.65" y1="274.90" x2="743.85" y2="274.90" stroke="#000" stroke-width="1.3"/>
<rect x="726.50" y="280.90" width="22.50" height="52.90" fill="#000" stroke="#000" stroke-width="1.3"/>
<line x1="737.75" y1="333.80" x2="737.75" y2="336.80" stroke="#000" stroke-width="1.3"/>
<text transform="translate(737.75,345.60) scale(0.9434,1)" font-size="9.86" text-anchor="middle">25</text>
<line x1="770.80" y1="329.00" x2="770.80" y2="330.30" stroke="#000" stroke-width="1.3"/>
<line x1="764.70" y1="329.00" x2="776.90" y2="329.00" stroke="#000" stroke-width="1.3"/>
<rect x="759.80" y="330.80" width="22.00" height="3.00" fill="#fff" stroke="#000" stroke-width="1.3"/>
<line x1="770.80" y1="333.80" x2="770.80" y2="336.80" stroke="#000" stroke-width="1.3"/>
<text transform="translate(770.80,345.60) scale(0.9434,1)" font-size="9.86" text-anchor="middle">0</text>
<line x1="794.75" y1="262.65" x2="794.75" y2="265.45" stroke="#000" stroke-width="1.3"/>
<line x1="788.65" y1="262.65" x2="800.85" y2="262.65" stroke="#000" stroke-width="1.3"/>
<rect x="783.50" y="265.95" width="22.50" height="67.85" fill="#000" stroke="#000" stroke-width="1.3"/>
<line x1="794.75" y1="333.80" x2="794.75" y2="336.80" stroke="#000" stroke-width="1.3"/>
<text transform="translate(794.75,345.60) scale(0.9434,1)" font-size="9.86" text-anchor="middle">25</text>
<text transform="translate(754.80,357.90) scale(0.9804,1)" font-size="9.59" text-anchor="middle">H<tspan font-size="6.52" dy="1.92">2</tspan><tspan dy="-1.92">O</tspan><tspan font-size="6.52" dy="1.92">2</tspan><tspan dy="-1.92"> [µM]</tspan></text>
<text class="st" x="737.40" y="270.94" font-size="14" text-anchor="middle">*</text>
<text class="st" x="795.00" y="249.84" font-size="14" text-anchor="middle">*</text>
<text transform="translate(726.55,232.20) scale(0.9259,1)" font-size="9.90" text-anchor="middle">IF=23.41</text>
<text transform="translate(784.65,232.20) scale(0.9259,1)" font-size="9.90" text-anchor="middle">IF=25.7</text>
<text x="0.00" y="0.00" font-size="9.2" text-anchor="middle" transform="translate(675.60,276.50) scale(0.9,1) rotate(-90)">% Tail Intensity (DNA in tail)</text>
<line x1="56.95" y1="409.50" x2="56.95" y2="525.00" stroke="#000" stroke-width="1.1"/>
<line x1="56.45" y1="524.50" x2="172.50" y2="524.50" stroke="#000" stroke-width="1.3"/>
<line x1="53.55" y1="410.00" x2="56.95" y2="410.00" stroke="#000" stroke-width="1.3"/>
<text transform="translate(53.05,413.60) scale(0.9434,1)" font-size="9.86" text-anchor="end">20</text>
<line x1="53.55" y1="467.25" x2="56.95" y2="467.25" stroke="#000" stroke-width="1.3"/>
<text transform="translate(53.05,470.85) scale(0.9434,1)" font-size="9.86" text-anchor="end">10</text>
<line x1="53.55" y1="524.50" x2="56.95" y2="524.50" stroke="#000" stroke-width="1.3"/>
<text transform="translate(53.05,528.10) scale(0.9434,1)" font-size="9.86" text-anchor="end">0</text>
<line x1="73.38" y1="504.50" x2="73.38" y2="511.80" stroke="#000" stroke-width="1.3"/>
<line x1="67.28" y1="504.50" x2="79.47" y2="504.50" stroke="#000" stroke-width="1.3"/>
<rect x="62.25" y="512.30" width="22.25" height="12.20" fill="#fff" stroke="#000" stroke-width="1.3"/>
<line x1="73.38" y1="524.50" x2="73.38" y2="527.50" stroke="#000" stroke-width="1.3"/>
<text transform="translate(73.38,536.05) scale(0.9434,1)" font-size="9.86" text-anchor="middle">0</text>
<line x1="97.62" y1="447.50" x2="97.62" y2="464.55" stroke="#000" stroke-width="1.3"/>
<line x1="91.53" y1="447.50" x2="103.72" y2="447.50" stroke="#000" stroke-width="1.3"/>
<rect x="86.50" y="465.05" width="22.25" height="59.45" fill="#000" stroke="#000" stroke-width="1.3"/>
<line x1="97.62" y1="524.50" x2="97.62" y2="527.50" stroke="#000" stroke-width="1.3"/>
<text transform="translate(97.62,536.05) scale(0.9434,1)" font-size="9.86" text-anchor="middle">20</text>
<line x1="131.00" y1="514.00" x2="131.00" y2="516.30" stroke="#000" stroke-width="1.3"/>
<line x1="124.90" y1="514.00" x2="137.10" y2="514.00" stroke="#000" stroke-width="1.3"/>
<rect x="120.00" y="516.80" width="22.00" height="7.70" fill="#fff" stroke="#000" stroke-width="1.3"/>
<line x1="131.00" y1="524.50" x2="131.00" y2="527.50" stroke="#000" stroke-width="1.3"/>
<text transform="translate(131.00,536.05) scale(0.9434,1)" font-size="9.86" text-anchor="middle">0</text>
<line x1="155.38" y1="466.00" x2="155.38" y2="474.05" stroke="#000" stroke-width="1.3"/>
<line x1="149.28" y1="466.00" x2="161.47" y2="466.00" stroke="#000" stroke-width="1.3"/>
<rect x="144.25" y="474.55" width="22.25" height="49.95" fill="#000" stroke="#000" stroke-width="1.3"/>
<line x1="155.38" y1="524.50" x2="155.38" y2="527.50" stroke="#000" stroke-width="1.3"/>
<text transform="translate(155.38,536.05) scale(0.9434,1)" font-size="9.86" text-anchor="middle">20</text>
<text transform="translate(114.72,554.05) scale(0.9804,1)" font-size="9.59" text-anchor="middle">AFB<tspan font-size="6.14" dy="1.92">1</tspan><tspan dy="-1.92"> [µM]</tspan></text>
<text class="st" x="97.50" y="449.64" font-size="14" text-anchor="middle">*</text>
<text class="st" x="154.25" y="462.14" font-size="14" text-anchor="middle">*</text>
<text transform="translate(85.62,417.70) scale(0.9259,1)" font-size="9.90" text-anchor="middle">IF=4.7</text>
<text transform="translate(144.88,417.70) scale(0.9259,1)" font-size="9.90" text-anchor="middle">IF=6.4</text>
<text x="0.00" y="0.00" font-size="9.2" text-anchor="middle" transform="translate(33.70,466.35) scale(0.9,1) rotate(-90)">% Tail Intensity (DNA in tail)</text>
<line x1="218.50" y1="409.10" x2="218.50" y2="525.00" stroke="#000" stroke-width="1.1"/>
<line x1="218.00" y1="524.50" x2="333.75" y2="524.50" stroke="#000" stroke-width="1.3"/>
<line x1="215.50" y1="409.60" x2="218.50" y2="409.60" stroke="#000" stroke-width="1.3"/>
<text transform="translate(215.60,413.20) scale(0.9434,1)" font-size="9.86" text-anchor="end">30</text>
<line x1="215.50" y1="447.80" x2="218.50" y2="447.80" stroke="#000" stroke-width="1.3"/>
<text transform="translate(215.60,451.40) scale(0.9434,1)" font-size="9.86" text-anchor="end">20</text>
<line x1="215.50" y1="486.10" x2="218.50" y2="486.10" stroke="#000" stroke-width="1.3"/>
<text transform="translate(215.60,489.70) scale(0.9434,1)" font-size="9.86" text-anchor="end">10</text>
<line x1="215.50" y1="524.50" x2="218.50" y2="524.50" stroke="#000" stroke-width="1.3"/>
<text transform="translate(215.60,528.10) scale(0.9434,1)" font-size="9.86" text-anchor="end">0</text>
<line x1="235.25" y1="511.25" x2="235.25" y2="516.55" stroke="#000" stroke-width="1.3"/>
<line x1="229.15" y1="511.25" x2="241.35" y2="511.25" stroke="#000" stroke-width="1.3"/>
<rect x="224.25" y="517.05" width="22.00" height="7.45" fill="#fff" stroke="#000" stroke-width="1.3"/>
<line x1="235.25" y1="524.50" x2="235.25" y2="527.50" stroke="#000" stroke-width="1.3"/>
<text transform="translate(235.25,535.55) scale(0.9434,1)" font-size="9.86" text-anchor="middle">0</text>
<line x1="259.38" y1="454.50" x2="259.38" y2="469.30" stroke="#000" stroke-width="1.3"/>
<line x1="253.28" y1="454.50" x2="265.48" y2="454.50" stroke="#000" stroke-width="1.3"/>
<rect x="248.50" y="469.80" width="21.75" height="54.70" fill="#000" stroke="#000" stroke-width="1.3"/>
<line x1="259.38" y1="524.50" x2="259.38" y2="527.50" stroke="#000" stroke-width="1.3"/>
<text transform="translate(259.38,535.55) scale(0.9434,1)" font-size="9.86" text-anchor="middle">50</text>
<line x1="292.75" y1="514.50" x2="292.75" y2="518.55" stroke="#000" stroke-width="1.3"/>
<line x1="286.65" y1="514.50" x2="298.85" y2="514.50" stroke="#000" stroke-width="1.3"/>
<rect x="281.75" y="519.05" width="22.00" height="5.45" fill="#fff" stroke="#000" stroke-width="1.3"/>
<line x1="292.75" y1="524.50" x2="292.75" y2="527.50" stroke="#000" stroke-width="1.3"/>
<text transform="translate(292.75,535.55) scale(0.9434,1)" font-size="9.86" text-anchor="middle">0</text>
<line x1="317.00" y1="490.00" x2="317.00" y2="497.55" stroke="#000" stroke-width="1.3"/>
<line x1="310.90" y1="490.00" x2="323.10" y2="490.00" stroke="#000" stroke-width="1.3"/>
<rect x="305.50" y="498.05" width="23.00" height="26.45" fill="#000" stroke="#000" stroke-width="1.3"/>
<line x1="317.00" y1="524.50" x2="317.00" y2="527.50" stroke="#000" stroke-width="1.3"/>
<text transform="translate(317.00,535.55) scale(0.9434,1)" font-size="9.86" text-anchor="middle">50</text>
<text transform="translate(276.12,548.55) scale(0.9804,1)" font-size="9.59" text-anchor="middle">BaP [µM]</text>
<text class="st" x="258.25" y="446.64" font-size="14" text-anchor="middle">*</text>
<text class="st" x="315.75" y="482.14" font-size="14" text-anchor="middle">*</text>
<text transform="translate(248.38,420.45) scale(0.9259,1)" font-size="9.90" text-anchor="middle">IF=6.5</text>
<text transform="translate(308.62,420.45) scale(0.9259,1)" font-size="9.90" text-anchor="middle">IF=4.4</text>
<text x="0.00" y="0.00" font-size="9.2" text-anchor="middle" transform="translate(195.70,465.90) scale(0.9,1) rotate(-90)">% Tail Intensity (DNA in tail)</text>
<line x1="381.90" y1="409.50" x2="381.90" y2="525.00" stroke="#000" stroke-width="1.1"/>
<line x1="381.40" y1="524.50" x2="497.00" y2="524.50" stroke="#000" stroke-width="1.3"/>
<line x1="378.50" y1="410.00" x2="381.90" y2="410.00" stroke="#000" stroke-width="1.3"/>
<text transform="translate(378.00,413.60) scale(0.9434,1)" font-size="9.86" text-anchor="end">20</text>
<line x1="378.50" y1="467.50" x2="381.90" y2="467.50" stroke="#000" stroke-width="1.3"/>
<text transform="translate(378.00,471.10) scale(0.9434,1)" font-size="9.86" text-anchor="end">10</text>
<line x1="378.50" y1="524.50" x2="381.90" y2="524.50" stroke="#000" stroke-width="1.3"/>
<text transform="translate(378.00,528.10) scale(0.9434,1)" font-size="9.86" text-anchor="end">0</text>
<line x1="398.50" y1="516.00" x2="398.50" y2="519.05" stroke="#000" stroke-width="1.3"/>
<line x1="392.40" y1="516.00" x2="404.60" y2="516.00" stroke="#000" stroke-width="1.3"/>
<rect x="387.50" y="519.55" width="22.00" height="4.95" fill="#fff" stroke="#000" stroke-width="1.3"/>
<line x1="398.50" y1="524.50" x2="398.50" y2="527.50" stroke="#000" stroke-width="1.3"/>
<text transform="translate(398.50,535.55) scale(0.9434,1)" font-size="9.86" text-anchor="middle">0</text>
<line x1="422.88" y1="446.25" x2="422.88" y2="472.55" stroke="#000" stroke-width="1.3"/>
<line x1="416.77" y1="446.25" x2="428.98" y2="446.25" stroke="#000" stroke-width="1.3"/>
<rect x="411.75" y="473.05" width="22.25" height="51.45" fill="#000" stroke="#000" stroke-width="1.3"/>
<line x1="422.88" y1="524.50" x2="422.88" y2="527.50" stroke="#000" stroke-width="1.3"/>
<text transform="translate(422.88,535.55) scale(0.9434,1)" font-size="9.86" text-anchor="middle">100</text>
<line x1="456.00" y1="513.25" x2="456.00" y2="518.30" stroke="#000" stroke-width="1.3"/>
<line x1="449.90" y1="513.25" x2="462.10" y2="513.25" stroke="#000" stroke-width="1.3"/>
<rect x="445.00" y="518.80" width="22.00" height="5.70" fill="#fff" stroke="#000" stroke-width="1.3"/>
<line x1="456.00" y1="524.50" x2="456.00" y2="527.50" stroke="#000" stroke-width="1.3"/>
<text transform="translate(456.00,535.55) scale(0.9434,1)" font-size="9.86" text-anchor="middle">0</text>
<line x1="480.25" y1="471.75" x2="480.25" y2="482.05" stroke="#000" stroke-width="1.3"/>
<line x1="474.15" y1="471.75" x2="486.35" y2="471.75" stroke="#000" stroke-width="1.3"/>
<rect x="469.25" y="482.55" width="22.00" height="41.95" fill="#000" stroke="#000" stroke-width="1.3"/>
<line x1="480.25" y1="524.50" x2="480.25" y2="527.50" stroke="#000" stroke-width="1.3"/>
<text transform="translate(480.25,535.55) scale(0.9434,1)" font-size="9.86" text-anchor="middle">100</text>
<text transform="translate(439.45,549.80) scale(0.9804,1)" font-size="9.59" text-anchor="middle">IQ [µM]</text>
<text class="st" x="421.75" y="446.14" font-size="14" text-anchor="middle">*</text>
<text class="st" x="480.00" y="446.14" font-size="14" text-anchor="middle">*</text>
<text transform="translate(408.50,420.45) scale(0.9259,1)" font-size="9.90" text-anchor="middle">IF=10</text>
<text transform="translate(470.88,420.45) scale(0.9259,1)" font-size="9.90" text-anchor="middle">IF=7.3</text>
<text x="0.00" y="0.00" font-size="9.2" text-anchor="middle" transform="translate(360.85,466.35) scale(0.9,1) rotate(-90)">% Tail Intensity (DNA in tail)</text>
<line x1="537.70" y1="409.50" x2="537.70" y2="525.00" stroke="#000" stroke-width="1.1"/>
<line x1="537.20" y1="524.50" x2="653.00" y2="524.50" stroke="#000" stroke-width="1.3"/>
<line x1="534.30" y1="410.00" x2="537.70" y2="410.00" stroke="#000" stroke-width="1.3"/>
<text transform="translate(533.80,413.60) scale(0.9434,1)" font-size="9.86" text-anchor="end">20</text>
<line x1="534.30" y1="467.25" x2="537.70" y2="467.25" stroke="#000" stroke-width="1.3"/>
<text transform="translate(533.80,470.85) scale(0.9434,1)" font-size="9.86" text-anchor="end">10</text>
<line x1="534.30" y1="524.50" x2="537.70" y2="524.50" stroke="#000" stroke-width="1.3"/>
<text transform="translate(533.80,528.10) scale(0.9434,1)" font-size="9.86" text-anchor="end">0</text>
<line x1="554.00" y1="502.75" x2="554.00" y2="506.55" stroke="#000" stroke-width="1.3"/>
<line x1="547.90" y1="502.75" x2="560.10" y2="502.75" stroke="#000" stroke-width="1.3"/>
<rect x="543.00" y="507.05" width="22.00" height="17.45" fill="#fff" stroke="#000" stroke-width="1.3"/>
<line x1="554.00" y1="524.50" x2="554.00" y2="527.50" stroke="#000" stroke-width="1.3"/>
<text transform="translate(554.00,535.55) scale(0.9434,1)" font-size="9.86" text-anchor="middle">0</text>
<line x1="578.25" y1="424.50" x2="578.25" y2="437.30" stroke="#000" stroke-width="1.3"/>
<line x1="572.15" y1="424.50" x2="584.35" y2="424.50" stroke="#000" stroke-width="1.3"/>
<rect x="567.00" y="437.80" width="22.50" height="86.70" fill="#000" stroke="#000" stroke-width="1.3"/>
<line x1="578.25" y1="524.50" x2="578.25" y2="527.50" stroke="#000" stroke-width="1.3"/>
<text transform="translate(578.25,535.55) scale(0.9434,1)" font-size="9.86" text-anchor="middle">100</text>
<line x1="611.50" y1="515.75" x2="611.50" y2="519.05" stroke="#000" stroke-width="1.3"/>
<line x1="605.40" y1="515.75" x2="617.60" y2="515.75" stroke="#000" stroke-width="1.3"/>
<rect x="600.50" y="519.55" width="22.00" height="4.95" fill="#fff" stroke="#000" stroke-width="1.3"/>
<line x1="611.50" y1="524.50" x2="611.50" y2="527.50" stroke="#000" stroke-width="1.3"/>
<text transform="translate(611.50,535.55) scale(0.9434,1)" font-size="9.86" text-anchor="middle">0</text>
<line x1="635.88" y1="469.25" x2="635.88" y2="481.80" stroke="#000" stroke-width="1.3"/>
<line x1="629.77" y1="469.25" x2="641.98" y2="469.25" stroke="#000" stroke-width="1.3"/>
<rect x="624.75" y="482.30" width="22.25" height="42.20" fill="#000" stroke="#000" stroke-width="1.3"/>
<line x1="635.88" y1="524.50" x2="635.88" y2="527.50" stroke="#000" stroke-width="1.3"/>
<text transform="translate(635.88,535.55) scale(0.9434,1)" font-size="9.86" text-anchor="middle">100</text>
<text transform="translate(595.35,548.55) scale(0.9804,1)" font-size="9.59" text-anchor="middle">PhIP [µM]</text>
<text class="st" x="577.50" y="424.86" font-size="11" text-anchor="middle">*</text>
<text class="st" x="635.50" y="463.11" font-size="11" text-anchor="middle">*</text>
<text transform="translate(555.62,418.95) scale(0.9259,1)" font-size="9.90" text-anchor="middle">IF=4.8</text>
<text transform="translate(622.50,418.95) scale(0.9259,1)" font-size="9.90" text-anchor="middle">IF=8.1</text>
<text x="0.00" y="0.00" font-size="9.2" text-anchor="middle" transform="translate(517.80,466.35) scale(0.9,1) rotate(-90)">% Tail Intensity (DNA in tail)</text>
<line x1="697.10" y1="411.00" x2="697.10" y2="524.80" stroke="#000" stroke-width="1.1"/>
<line x1="696.60" y1="524.30" x2="812.50" y2="524.30" stroke="#000" stroke-width="1.3"/>
<line x1="694.50" y1="411.50" x2="697.10" y2="411.50" stroke="#000" stroke-width="1.3"/>
<text transform="translate(693.80,415.10) scale(0.9434,1)" font-size="9.86" text-anchor="end">60</text>
<line x1="694.50" y1="430.30" x2="697.10" y2="430.30" stroke="#000" stroke-width="1.3"/>
<text transform="translate(693.80,433.90) scale(0.9434,1)" font-size="9.86" text-anchor="end">50</text>
<line x1="694.50" y1="449.10" x2="697.10" y2="449.10" stroke="#000" stroke-width="1.3"/>
<text transform="translate(693.80,452.70) scale(0.9434,1)" font-size="9.86" text-anchor="end">40</text>
<line x1="694.50" y1="467.90" x2="697.10" y2="467.90" stroke="#000" stroke-width="1.3"/>
<text transform="translate(693.80,471.50) scale(0.9434,1)" font-size="9.86" text-anchor="end">30</text>
<line x1="694.50" y1="486.70" x2="697.10" y2="486.70" stroke="#000" stroke-width="1.3"/>
<text transform="translate(693.80,490.30) scale(0.9434,1)" font-size="9.86" text-anchor="end">20</text>
<line x1="694.50" y1="505.50" x2="697.10" y2="505.50" stroke="#000" stroke-width="1.3"/>
<text transform="translate(693.80,509.10) scale(0.9434,1)" font-size="9.86" text-anchor="end">10</text>
<line x1="694.50" y1="524.30" x2="697.10" y2="524.30" stroke="#000" stroke-width="1.3"/>
<text transform="translate(693.80,527.90) scale(0.9434,1)" font-size="9.86" text-anchor="end">0</text>
<line x1="713.70" y1="521.00" x2="713.70" y2="521.60" stroke="#000" stroke-width="1.3"/>
<line x1="707.60" y1="521.00" x2="719.80" y2="521.00" stroke="#000" stroke-width="1.3"/>
<rect x="702.70" y="522.10" width="22.00" height="2.20" fill="#fff" stroke="#000" stroke-width="1.3"/>
<line x1="713.70" y1="524.30" x2="713.70" y2="527.30" stroke="#000" stroke-width="1.3"/>
<text transform="translate(713.70,535.90) scale(0.9434,1)" font-size="9.86" text-anchor="middle">0</text>
<line x1="737.75" y1="461.60" x2="737.75" y2="472.90" stroke="#000" stroke-width="1.3"/>
<line x1="731.65" y1="461.60" x2="743.85" y2="461.60" stroke="#000" stroke-width="1.3"/>
<rect x="726.50" y="473.40" width="22.50" height="50.90" fill="#000" stroke="#000" stroke-width="1.3"/>
<line x1="737.75" y1="524.30" x2="737.75" y2="527.30" stroke="#000" stroke-width="1.3"/>
<text transform="translate(737.75,535.90) scale(0.9434,1)" font-size="9.86" text-anchor="middle">25</text>
<line x1="770.80" y1="519.00" x2="770.80" y2="520.30" stroke="#000" stroke-width="1.3"/>
<line x1="764.70" y1="519.00" x2="776.90" y2="519.00" stroke="#000" stroke-width="1.3"/>
<rect x="759.80" y="520.80" width="22.00" height="3.50" fill="#fff" stroke="#000" stroke-width="1.3"/>
<line x1="770.80" y1="524.30" x2="770.80" y2="527.30" stroke="#000" stroke-width="1.3"/>
<text transform="translate(770.80,535.90) scale(0.9434,1)" font-size="9.86" text-anchor="middle">0</text>
<line x1="794.75" y1="450.40" x2="794.75" y2="457.20" stroke="#000" stroke-width="1.3"/>
<line x1="788.65" y1="450.40" x2="800.85" y2="450.40" stroke="#000" stroke-width="1.3"/>
<rect x="783.50" y="457.70" width="22.50" height="66.60" fill="#000" stroke="#000" stroke-width="1.3"/>
<line x1="794.75" y1="524.30" x2="794.75" y2="527.30" stroke="#000" stroke-width="1.3"/>
<text transform="translate(794.75,535.90) scale(0.9434,1)" font-size="9.86" text-anchor="middle">25</text>
<text transform="translate(754.80,547.40) scale(0.9804,1)" font-size="9.59" text-anchor="middle">H<tspan font-size="6.52" dy="1.92">2</tspan><tspan dy="-1.92">O</tspan><tspan font-size="6.52" dy="1.92">2</tspan><tspan dy="-1.92"> [µM]</tspan></text>
<text class="st" x="739.40" y="459.79" font-size="14" text-anchor="middle">*</text>
<text class="st" x="794.30" y="448.74" font-size="14" text-anchor="middle">*</text>
<text transform="translate(725.30,422.20) scale(0.9259,1)" font-size="9.90" text-anchor="middle">IF=18</text>
<text transform="translate(781.95,422.20) scale(0.9259,1)" font-size="9.90" text-anchor="middle">IF=17.8</text>
<text x="0.00" y="0.00" font-size="9.2" text-anchor="middle" transform="translate(675.60,467.80) scale(0.9,1) rotate(-90)">% Tail Intensity (DNA in tail)</text>
<text transform="translate(104.4,13.6) scale(1.1,1)" font-size="17.6">AFB<tspan font-size="11.7" dy="4">1</tspan></text>
<text transform="translate(262.75,13.9) scale(1.05,1)" font-size="17.6">BaP</text>
<text transform="translate(434.15,13.9) scale(1.1,1)" font-size="17.6">IQ</text>
<text transform="translate(582.6,13.9) scale(1.077,1)" font-size="17.6">PhIP</text>
<text transform="translate(737.5,13.9) scale(1.056,1)" font-size="17.6">H<tspan font-size="11.7" dy="4">2</tspan><tspan dy="-4">O</tspan><tspan font-size="11.7" dy="4">2</tspan></text>
<text transform="translate(17.7,82.9) scale(1.06,1) rotate(-90)" font-size="23" text-anchor="middle">HuH6</text>
<text transform="translate(17.7,269.25) scale(1.06,1) rotate(-90)" font-size="23" text-anchor="middle">HepG2</text>
<text transform="translate(17.7,471.4) scale(1.06,1) rotate(-90)" font-size="23" text-anchor="middle">HCC1.2</text>
</svg>
</body></html>
